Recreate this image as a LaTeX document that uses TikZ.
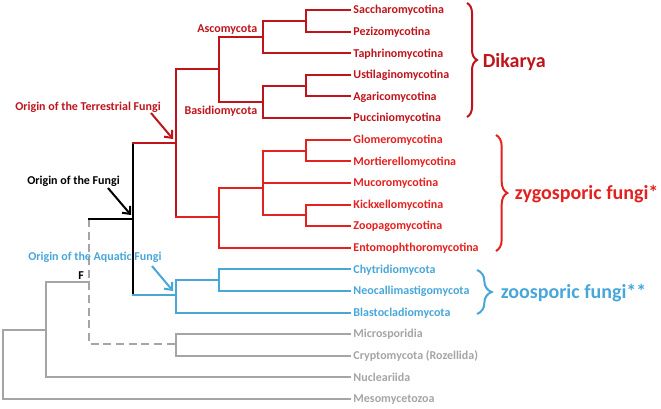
\documentclass[tikz,border=0pt]{standalone}
\usepackage{fontspec}
\setmainfont{Carlito}
\usetikzlibrary{arrows.meta,decorations.pathreplacing}
\definecolor{dk}{HTML}{C0141C}
\definecolor{zr}{HTML}{E3211F}
\definecolor{aq}{HTML}{48A6D9}
\definecolor{gy}{HTML}{A5A5A5}
\begin{document}
\begin{tikzpicture}[x=0.75pt,y=-0.75pt,
  br/.style={line width=1.5pt, line cap=rect},
  dkl/.style={br, draw=dk},
  zrl/.style={br, draw=zr},
  aql/.style={br, draw=aq},
  gyl/.style={br, draw=gy},
  bkl/.style={br, draw=black},
  gdash/.style={br, draw=gy, line cap=butt, dash pattern=on 6pt off 3.5pt},
  lbl/.style={inner sep=0pt, text height=5.8pt, text depth=0pt, font=\bfseries\fontsize{9}{10}\selectfont},
  leaf/.style={lbl, anchor=west, inner xsep=2.4pt},
  big/.style={inner sep=0pt, anchor=base west, font=\bfseries\fontsize{15}{18}\selectfont},
  arr/.style={line width=1.5pt, -{Straight Barb[length=4.5pt,width=8pt]}},
  brc/.style={line width=1.5pt, decorate},
]
\useasboundingbox (0,0) rectangle (661,408);

% leaves
\node[leaf, text=dk] (t1) at (350,10) {Saccharomycotina};
\node[leaf, text=dk] (t2) at (350,31.6) {Pezizomycotina};
\node[leaf, text=dk] (t3) at (350,53.2) {Taphrinomycotina};
\node[leaf, text=dk] (t4) at (350,74.8) {Ustilaginomycotina};
\node[leaf, text=dk] (t5) at (350,96.4) {Agaricomycotina};
\node[leaf, text=dk] (t6) at (350,118) {Pucciniomycotina};
\node[leaf, text=zr] (t7) at (350,139.7) {Glomeromycotina};
\node[leaf, text=zr] (t8) at (350,161.3) {Mortierellomycotina};
\node[leaf, text=zr] (t9) at (350,182.9) {Mucoromycotina};
\node[leaf, text=zr] (t10) at (350,204.5) {Kickxellomycotina};
\node[leaf, text=zr] (t11) at (350,226.1) {Zoopagomycotina};
\node[leaf, text=zr] (t12) at (350,247.7) {Entomophthoromycotina};
\node[leaf, text=aq] (t13) at (350,269.3) {Chytridiomycota};
\node[leaf, text=aq] (t14) at (350,290.9) {Neocallimastigomycota};
\node[leaf, text=aq] (t15) at (350,312.5) {Blastocladiomycota};
\node[leaf, text=gy] (t16) at (350,334.1) {Microsporidia};
\node[leaf, text=gy] (t17) at (350,355.8) {Cryptomycota (Rozellida)};
\node[leaf, text=gy] (t18) at (350,377.4) {Nucleariida};
\node[leaf, text=gy] (t19) at (350,399) {Mesomycetozoa};

% internal nodes
\coordinate (n12) at (306,20.8);
\coordinate (nAs) at (263,37);
\coordinate (n45) at (306,85.6);
\coordinate (nBa) at (263,101.8);
\coordinate (nDk) at (219,69.4);
\coordinate (nT) at (176,143);
\coordinate (n78) at (306,150.5);
\coordinate (nMK) at (263,188);
\coordinate (n1011) at (306,215.3);
\coordinate (nZ) at (219,217);
\coordinate (nCN) at (219,280);
\coordinate (nAq) at (176,295);
\coordinate (nFu) at (133,219);
\coordinate (nMC) at (176,344);
\coordinate (nF) at (89,282);
\coordinate (nNu) at (46,330);
\coordinate (nR) at (3,364.5);

% Dikarya
\draw[dkl] (n12) |- (t1.west);
\draw[dkl] (n12) |- (t2.west);
\draw[dkl] (nAs) |- (n12);
\draw[dkl] (nAs) |- (t3.west);
\draw[dkl] (n45) |- (t4.west);
\draw[dkl] (n45) |- (t5.west);
\draw[dkl] (nBa) |- (n45);
\draw[dkl] (nBa) |- (t6.west);
\draw[dkl] (nDk) |- (nAs);
\draw[dkl] (nDk) |- (nBa);
\draw[dkl] (nT |- nDk) -- (nT |- nZ);
\draw[dkl] (nT |- nDk) -- (nDk);

% zygosporic
\draw[zrl] (nT |- nZ) -- (nZ);
\draw[zrl] (n78) |- (t7.west);
\draw[zrl] (n78) |- (t8.west);
\draw[zrl] (n1011) |- (t10.west);
\draw[zrl] (n1011) |- (t11.west);
\draw[zrl] (nMK) |- (n78);
\draw[zrl] (nMK) |- (n1011);
\draw[zrl] (nMK |- t9.west) -- (t9.west);
\draw[zrl] (nZ) |- (nMK);
\draw[zrl] (nZ) |- (t12.west);

% zoosporic
\draw[aql] (nCN) |- (t13.west);
\draw[aql] (nCN) |- (t14.west);
\draw[aql] (nAq) |- (nCN);
\draw[aql] (nAq) |- (t15.west);

% fungi node
\draw[bkl] (nFu |- nT) -- (nFu |- nAq);
\draw[dkl] (nFu |- nT) -- (nT);
\draw[aql] (nFu |- nAq) -- (nAq);

% grey part
\draw[gdash] (nF |- nFu) -- (nF |- nMC) -- (nMC);
\draw[bkl] (nF |- nFu) -- (nFu);
\draw[gyl] (nMC) |- (t16.west);
\draw[gyl] (nMC) |- (t17.west);
\draw[gyl] (nNu) |- (nF);
\draw[gyl] (nNu) |- (t18.west);
\draw[gyl] (nR) |- (nNu);
\draw[gyl] (nR) |- (t19.west);

% clade labels
\node[lbl, text=dk, anchor=east] (asco) at (257.5,29) {Ascomycota};
\node[lbl, text=dk, anchor=east] (basid) at (257.5,111) {Basidiomycota};
\node[lbl, anchor=west] (fl) at (78,276) {F};

% origin labels and arrows
\node[lbl, text=dk, anchor=west] (oT) at (15,106.5) {Origin of the Terrestrial Fungi};
\node[lbl, text=black, anchor=west] (oF) at (27,181) {Origin of the Fungi};
\node[lbl, text=aq, anchor=west] (oA) at (28,257) {Origin of the Aquatic Fungi};
\coordinate (aT1) at (151,113);
\coordinate (aT2) at (173,139);
\coordinate (aF1) at (108,188);
\coordinate (aF2) at (131,215);
\coordinate (aA1) at (152,266);
\coordinate (aA2) at (173,291);
\draw[arr, dk] (aT1) -- (aT2);
\draw[arr, black] (aF1) -- (aF2);
\draw[arr, aq] (aA1) -- (aA2);

% braces and group names
\coordinate (bD1) at (467,3);
\coordinate (bD2) at (467,117);
\coordinate (bZ1) at (496,135);
\coordinate (bZ2) at (496,251);
\coordinate (bA1) at (477,270);
\coordinate (bA2) at (477,314);
\draw[brc, dk, decoration={brace, amplitude=7.5pt}] (bD1) -- (bD2);
\draw[brc, zr, decoration={brace, amplitude=8.5pt}] (bZ1) -- (bZ2);
\draw[brc, aq, decoration={brace, amplitude=11pt}] (bA1) -- (bA2);
\node[big, text=dk] (dik) at (482.5,67.5) {Dikarya};
\node[big, text=zr] (zyg) at (514.5,199) {zygosporic fungi*};
\node[big, text=aq] (zoo) at (500.5,298) {zoosporic fungi**};
\end{tikzpicture}
\end{document}
